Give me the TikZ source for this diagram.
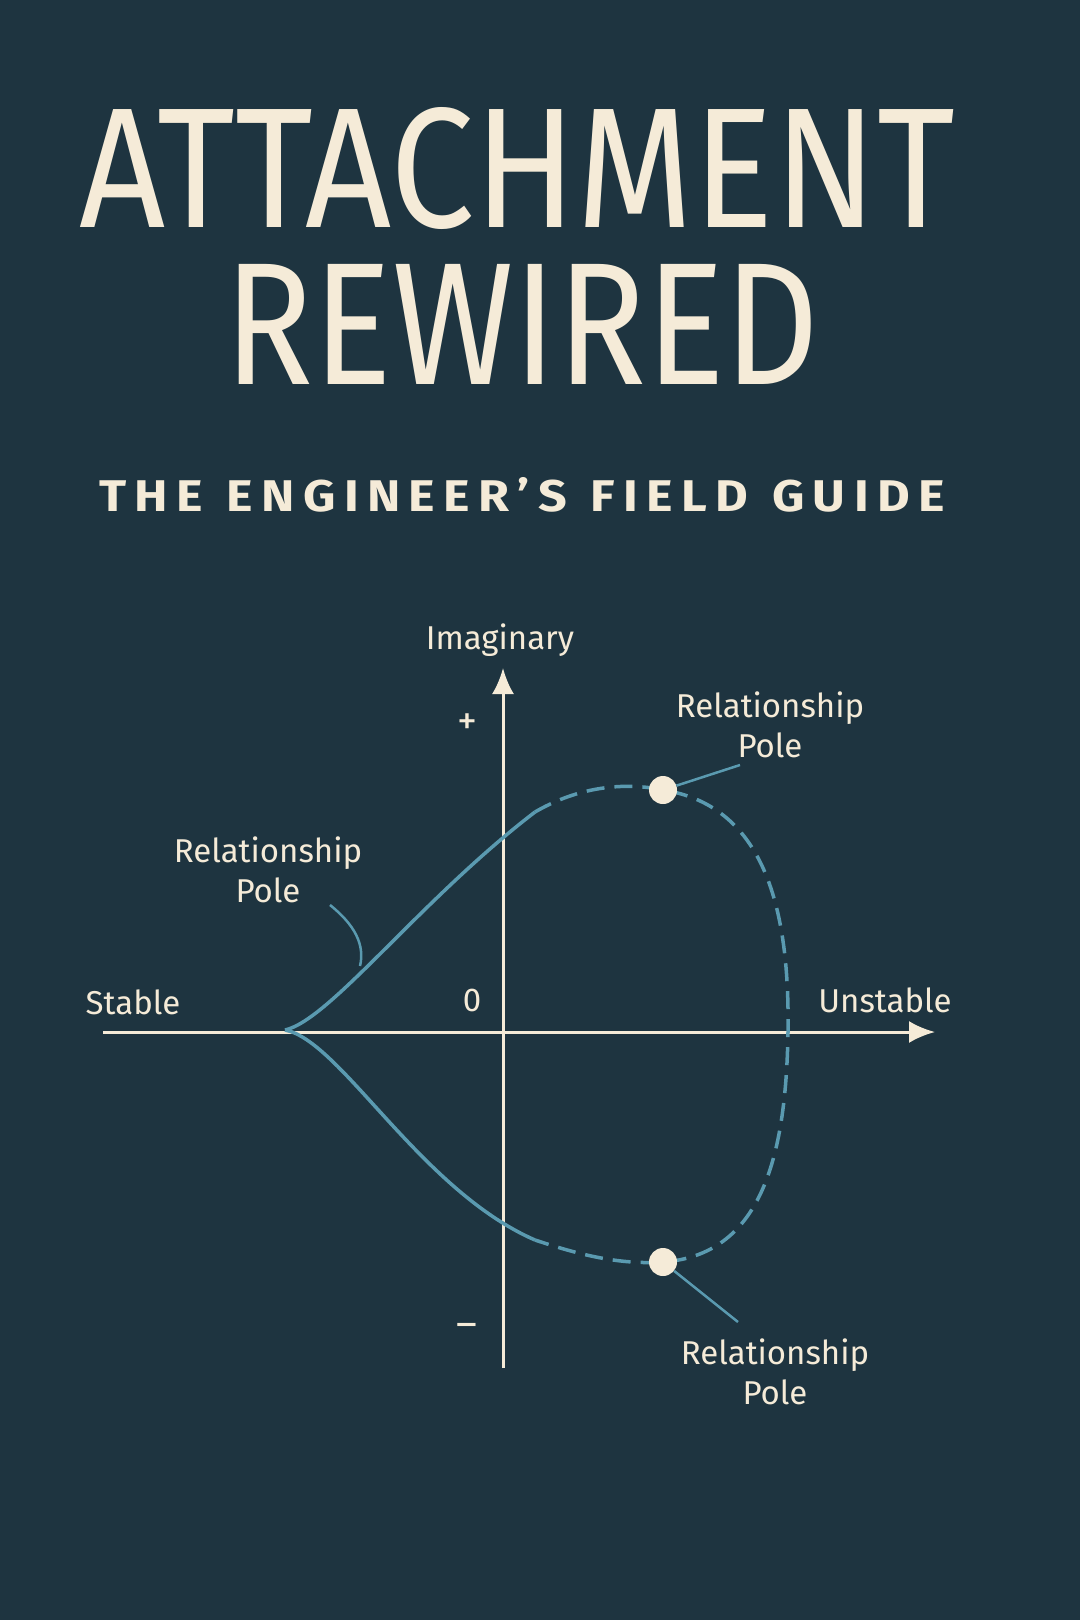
\documentclass[tikz,border=0pt]{standalone}
\usepackage{fontspec}
\setmainfont{Fira Sans}
\usepackage{graphicx}
\usetikzlibrary{arrows.meta}
\definecolor{bg}{HTML}{1E3440}
\definecolor{cream}{HTML}{F5EBD8}
\definecolor{curve}{HTML}{5A9AB0}
\begin{document}
\begin{tikzpicture}[x=1pt,y=-1pt,
  lbl/.style={text=cream,font=\fontsize{33}{40}\selectfont,align=center,inner sep=0pt},
  pole/.style={circle,fill=cream,minimum size=28pt,inner sep=0pt},
  crv/.style={draw=curve,line width=3.5pt},
  axis/.style={draw=cream,line width=3pt}]
\fill[bg] (0,0) rectangle (1080,1620);
\useasboundingbox (0,0) rectangle (1080,1620);
\node[text=cream,inner sep=0pt,anchor=south] (t1) at (517,230) {\resizebox{875pt}{120pt}{ATTACHMENT}};
\node[text=cream,inner sep=0pt,anchor=south] (t2) at (522,385) {\resizebox{595pt}{120pt}{REWIRED}};
\node[text=cream,inner sep=0pt,anchor=south] (t3) at (522,512) {\resizebox{845pt}{34pt}{\bfseries T\,H\,E\ \ E\,N\,G\,I\,N\,E\,E\,R\,’\,S\ \ F\,I\,E\,L\,D\ \ G\,U\,I\,D\,E}};
% axes
\coordinate (xl) at (103,1032); \coordinate (xr) at (935,1032);
\coordinate (yb) at (503,1368); \coordinate (yt) at (503,668);
\draw[axis,-{Latex[length=26pt,width=22pt]}] (xl) -- (xr);
\draw[axis,-{Latex[length=26pt,width=22pt]}] (yb) -- (yt);
\node[lbl] (im) at (500,640) {Imaginary};
\node[lbl,font=\fontsize{40}{40}\selectfont] (pl) at (467,724) {+};
\node[lbl,font=\fontsize{40}{40}\selectfont] (mn) at (467,1330) {–};
\node[lbl] (zero) at (472,1000) {0};
\node[lbl] (st) at (133,1002) {Stable};
\node[lbl] (un) at (885,1000) {Unstable};
% curves
\coordinate (s) at (285,1030);
\coordinate (a) at (535,812);
\coordinate (b) at (535,1240);
\coordinate (q1) at (663,790);
\coordinate (q2) at (663,1262);
\draw[crv] (s) .. controls (330,1020) and (420,900) .. (a);
\draw[crv] (s) .. controls (340,1040) and (420,1190) .. (b);
\draw[crv,dash pattern=on 18pt off 10pt] (a) .. controls (590,780) and (640,785) .. (q1) .. controls (760,805) and (790,900) .. (788,1032) .. controls (786,1160) and (760,1255) .. (q2) .. controls (620,1265) and (580,1255) .. (b);
\node[pole] (p1) at (q1) {};
\node[pole] (p2) at (q2) {};
% labels
\node[lbl] (r1) at (770,725) {Relationship\\Pole};
\node[lbl] (r2) at (268,870) {Relationship\\Pole};
\node[lbl] (r3) at (775,1372) {Relationship\\Pole};
\coordinate (c1) at (740,765);
\coordinate (c2) at (330,905);
\coordinate (c3) at (738,1322);
\coordinate (e2) at (360,966);
\draw[draw=curve,line width=2.5pt] (c1) -- (p1);
\draw[draw=curve,line width=2.5pt] (c2) .. controls (355,925) and (365,945) .. (e2);
\draw[draw=curve,line width=2.5pt] (p2) -- (c3);
\end{tikzpicture}
\end{document}
